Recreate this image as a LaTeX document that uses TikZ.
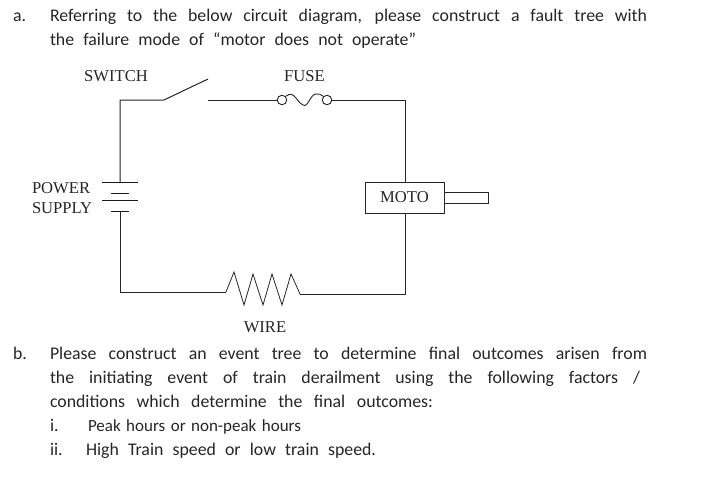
\documentclass[tikz,border=0pt]{standalone}
\usepackage{fontspec}
\setmainfont{Carlito}
\newfontfamily\labelfont{Liberation Serif}
\usetikzlibrary{positioning}
\newcommand{\textline}[2]{\makebox[#1pt][s]{#2}}
\begin{document}
\begin{tikzpicture}[x=1pt,y=-1pt,
    txt/.style={anchor=base west,inner sep=0pt,outer sep=0pt,text=black!85,font=\fontsize{17.8}{20}\selectfont},
    lbl/.style={anchor=base,inner sep=0pt,outer sep=0pt,text=black!85,font=\labelfont\fontsize{16.6}{18}\selectfont},
    wire/.style={draw=black!85,line width=1pt,line join=miter},
    plate/.style={draw=black!90,line width=0.9pt}]
  \useasboundingbox[fill=white] (0,0) rectangle (719,483);
  % question a
  \node[txt] (a) at (13,21) {a.};
  \node[txt] (a1) at (50,21) {\textline{597}{Referring to the below circuit diagram, please construct a fault tree with}};
  \node[txt] (a2) at (50,45) {\textline{366}{the failure mode of “motor does not operate”}};
  % labels
  \node[lbl] (switch) at (116,81) {SWITCH};
  \node[lbl] (fuse) at (304.5,81) {FUSE};
  \node[lbl,anchor=base west] (power) at (32,193) {POWER};
  \node[lbl,anchor=base west] (supply) at (32,213) {SUPPLY};
  \node[lbl] (wirelabel) at (265,332) {WIRE};
  % motor
  \node[draw=black!85,line width=0.9pt,minimum width=79pt,minimum height=31pt,inner sep=0pt,
    font=\labelfont\fontsize{16.6}{18}\selectfont,text=black!85] (motor) at (404.5,197.5) {MOTO};
  \node[draw=black!85,line width=0.9pt,minimum width=44pt,minimum height=11pt,inner sep=0pt,
    anchor=west] (shaft) at (motor.east) {};
  % fuse ends
  \node[draw=black!85,circle,line width=0.9pt,minimum size=9.5pt,inner sep=0pt] (fuseL) at (282,100) {};
  \node[draw=black!85,circle,line width=0.9pt,minimum size=9.5pt,inner sep=0pt] (fuseR) at (327,100) {};
  % corners
  \coordinate (tl) at (120,100);
  \coordinate (swA) at (164,100);
  \coordinate (swB) at (208,79);
  \coordinate (swC) at (208,100);
  \coordinate (tr) at (405,100);
  \coordinate (br) at (405,294);
  \coordinate (bl) at (120,292);
  \coordinate (batTop) at (120,182);
  \coordinate (batBot) at (120,211);
  \coordinate (resA) at (226,292);
  \coordinate (resB) at (300,294);
  % wires
  \draw[wire] (batTop) -- (tl) -- (swA) -- (swB);
  \draw[wire] (swC) -- (fuseL.west);
  \draw[wire] (fuseR.east) -- (tr) -- (motor.north -| tr);
  \draw[wire] (motor.south -| br) -- (br) -- (resB);
  \draw[wire] (batBot) -- (bl) -- (resA);
  \draw[wire,line width=0.8pt] (resA) -- (234,272) -- (244,305) -- (253,274) -- (263,305)
    -- (272,274) -- (282,305) -- (291,274) -- (resB);
  \draw[wire,line width=0.9pt] (fuseL.north east) .. controls (290,93) and (293,94) .. (296,98)
    .. controls (299,102) and (302,105.5) .. (305,105.5)
    .. controls (308,105.5) and (311,94) .. (316,94)
    .. controls (319,94) and (321,94) .. (fuseR.north west);
  % battery
  \draw[plate] (102,182) -- (138,182);
  \draw[plate] (111,193) -- (129,193);
  \draw[plate] (102,200) -- (138,200);
  \draw[plate] (111,211) -- (129,211);
  % question b
  \node[txt] (b) at (13,359) {b.};
  \node[txt] (b1) at (50,359) {\textline{597}{Please construct an event tree to determine final outcomes arisen from}};
  \node[txt] (b2) at (50,383) {\textline{590}{the initiating event of train derailment using the following factors /}};
  \node[txt] (b3) at (50,407) {\textline{383}{conditions which determine the final outcomes:}};
  \node[txt] (b4) at (50,431) {i.};
  \node[txt,font=\fontsize{17}{20}\selectfont] (b4t) at (88,431) {\textline{213}{Peak hours or non-peak hours}};
  \node[txt] (b5) at (50,455) {ii.};
  \node[txt] (b5t) at (86,455) {\textline{290}{High Train speed or low train speed.}};
\end{tikzpicture}
\end{document}
